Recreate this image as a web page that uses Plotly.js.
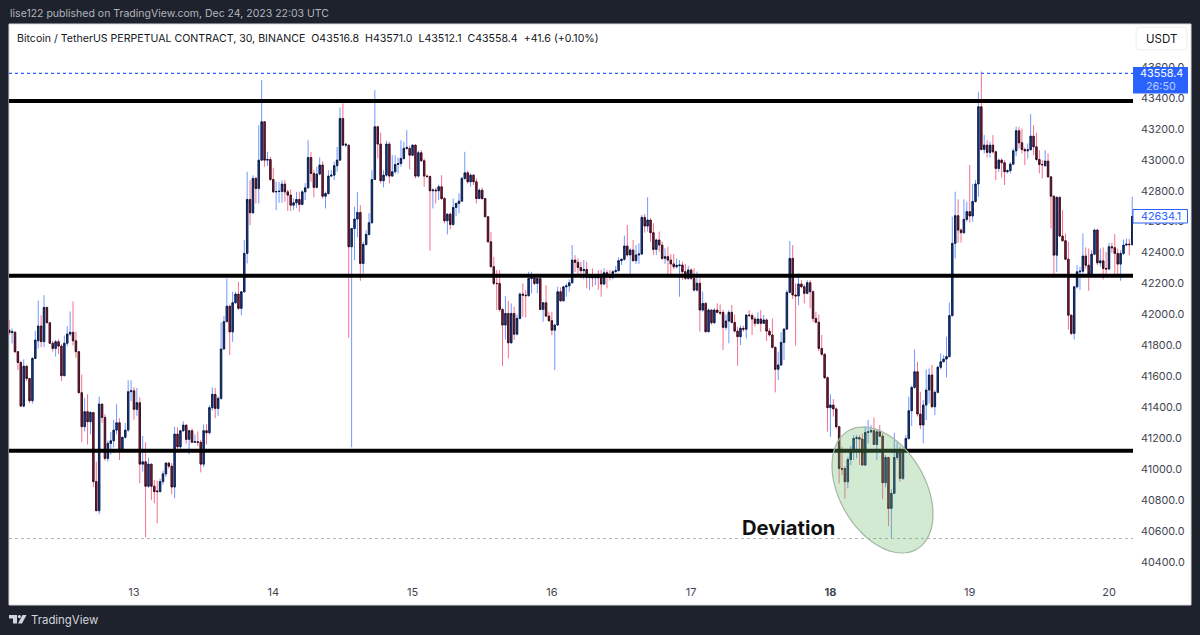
<!DOCTYPE html>
<html><head><meta charset="utf-8">
<script src="https://cdn.plot.ly/plotly-3.0.0.min.js"></script>
<style>html,body{margin:0;padding:0;background:#1e222d;overflow:hidden}#c{width:1200px;height:635px}</style>
</head><body><div id="c"></div>
<script>
const opens = [
41900,41883,41885,41760,41690,41408,41666,41587,41443,41716,
41830,41926,41825,42046,41947,41814,41781,41824,41796,41605,
41814,41874,41885,41830,41760,41495,41275,41372,41307,41367,
40920,40732,41421,41335,41070,41167,41184,41253,41300,41125,
41206,41253,41501,41507,41387,41430,41033,41048,40890,41033,
40890,40860,40855,40920,40970,41040,41020,40885,41227,41145,
41249,41285,41193,41249,41174,41178,41174,41033,41249,41236,
41398,41484,41393,41458,41777,41954,42054,41888,42076,42132,
42040,42147,42395,42744,42658,42880,42815,42998,43246,42998,
43002,42873,42793,42795,42795,42843,42793,42772,42707,42722,
42744,42712,42793,42819,43015,42912,42822,42908,42966,42765,
42782,42895,42901,42962,42998,43267,43095,43095,42438,42556,
42617,42660,42330,42453,42518,42593,42873,43214,43102,42865,
42901,43102,42895,42923,42970,42976,43009,43074,43074,43030,
43095,42895,43046,42994,42895,42892,42800,42805,42800,42826,
42750,42606,42649,42582,42692,42718,42733,42880,42916,42858,
42901,42858,42750,42804,42750,42632,42470,42309,42201,42201,
42033,41932,42007,41817,42007,41873,41975,42132,42125,42122,
42233,42238,42201,42233,42033,42076,41990,41960,41899,41932,
42147,42089,42179,42185,42205,42352,42337,42304,42283,42291,
42240,42244,42238,42245,42240,42197,42270,42249,42240,42277,
42284,42348,42357,42443,42385,42417,42348,42385,42391,42628,
42572,42611,42529,42421,42482,42449,42363,42374,42352,42327,
42309,42316,42320,42277,42234,42288,42234,42158,42202,42029,
42072,41889,42029,41947,42029,42014,42014,41917,41958,42014,
41949,41893,41857,41911,41905,41997,41993,41971,41943,41971,
41943,41965,41893,41868,41788,41646,41674,41820,41906,42143,
42363,42126,42120,42197,42180,42137,42206,42148,41975,41950,
41781,41743,41592,41398,41415,41390,41275,41005,41005,40919,
41063,41113,41199,41204,41195,41027,41238,41242,41249,41160,
41242,41214,40913,41076,40747,40844,41076,41124,40941,41113,
41199,41378,41529,41630,41357,41286,41415,41512,41609,41404,
41497,41659,41695,41712,41728,41993,42460,42639,42546,42529,
42615,42665,42637,42730,42844,43343,43067,43095,43048,43095,
43052,42944,42998,42981,42923,42930,42972,43058,43188,43110,
43067,43058,43065,43153,43084,43002,42970,42962,42992,42890,
42765,42384,42757,42507,42477,42358,41996,41878,42179,42276,
42280,42378,42319,42261,42390,42546,42334,42347,42298,42294,
42438,42432,42395,42326,42395,42449,42455,42452];
const highs = [
41964,41910,41895,41760,41700,41710,41670,41590,41725,41895,
42090,41995,42125,42050,41950,41830,41835,41840,41810,41865,
41925,42020,42085,41890,41760,41612,41460,41485,41375,41370,
41050,41470,41425,41355,41185,41240,41320,41420,41330,41210,
41300,41575,41575,41530,41525,41465,41215,41175,41075,41035,
40930,40925,40940,40990,41045,41045,41040,41275,41270,41255,
41310,41290,41255,41265,41225,41245,41190,41290,41290,41415,
41530,41525,41470,41950,41990,42233,42060,42147,42147,42212,
42150,42481,42923,42869,42900,42890,43224,43515,43250,43052,
43020,42949,42858,42858,42869,42869,42808,42808,42750,42793,
42793,42804,42850,43127,43050,42933,42955,43015,42990,42795,
42933,42933,42987,43084,43339,43365,43110,43095,42560,42696,
42791,42707,42470,42545,42655,42933,43451,43220,43175,42933,
43123,43117,43030,43030,43015,43127,43117,43192,43090,43100,
43100,43060,43063,43009,42905,42900,42815,42820,42840,42901,
42760,42655,42660,42750,42725,42783,42890,43052,42930,42912,
42908,42880,42815,42820,42750,42635,42535,42373,42287,42287,
42040,42119,42089,42072,42050,42000,42145,42201,42158,42276,
42276,42255,42255,42255,42080,42190,42018,42018,41940,42179,
42175,42185,42201,42227,42449,42384,42363,42341,42352,42341,
42260,42298,42255,42287,42288,42299,42288,42288,42288,42314,
42370,42363,42510,42579,42428,42482,42449,42460,42643,42650,
42758,42622,42590,42490,42536,42471,42428,42438,42391,42391,
42363,42352,42342,42327,42314,42299,42299,42277,42235,42148,
42080,42040,42035,42040,42072,42066,42030,42000,42029,42061,
42000,41920,41928,41928,42001,42029,42008,41986,42014,42029,
41997,41975,41911,41975,41792,41760,41885,41911,42158,42475,
42449,42202,42266,42223,42195,42223,42223,42155,42018,42000,
41868,41750,41600,41484,41454,41400,41280,41145,41020,41080,
41150,41221,41221,41221,41232,41279,41318,41285,41335,41253,
41285,41232,41092,41080,40870,41236,41178,41145,41120,41221,
41469,41540,41775,41695,41501,41447,41646,41652,41674,41510,
41670,41749,41738,41857,42077,42633,42794,42745,42557,42745,
42730,42967,42844,42870,43440,43571,43160,43127,43117,43160,
43060,43009,43009,42998,42938,42987,43074,43214,43214,43203,
43080,43106,43295,43224,43175,43063,42998,43063,43041,42895,
42770,42765,42765,42675,42524,42470,42000,42185,42319,42309,
42524,42434,42427,42416,42554,42554,42427,42434,42405,42464,
42464,42520,42427,42416,42485,42490,42490,42761];
const lows = [
41867,41813,41750,41640,41403,41400,41570,41428,41425,41715,
41780,41790,41790,41945,41810,41760,41728,41745,41570,41600,
41795,41860,41800,41720,41490,41175,41245,41160,41225,40885,
40732,40710,41300,41055,41050,41095,41140,41225,41060,41120,
41200,41240,41440,41320,41345,40910,40985,40560,40880,40800,
40780,40650,40850,40900,40950,41005,40838,40812,41130,41120,
41240,41165,41095,41170,41170,41150,40980,41015,41160,41225,
41380,41330,41345,41450,41775,41950,41738,41824,42070,42030,
41996,42140,42330,42578,42650,42718,42718,42994,42955,42960,
42865,42785,42675,42722,42722,42729,42670,42670,42675,42690,
42664,42705,42740,42815,42858,42757,42815,42900,42750,42686,
42775,42890,42869,42923,42994,43090,43080,41850,41142,42352,
42500,42218,42265,42445,42510,42590,42868,43009,42847,42822,
42890,42847,42890,42912,42912,42955,43000,43063,42938,43024,
42880,42886,42985,42826,42885,42412,42686,42718,42740,42740,
42589,42518,42550,42572,42636,42654,42729,42870,42847,42826,
42837,42718,42745,42740,42630,42465,42305,42190,42028,42018,
41666,41839,41716,41813,41835,41865,41968,41985,41981,42115,
42136,42190,42136,42028,41953,41985,41953,41867,41641,41927,
42082,42082,42115,42147,42200,42276,42261,42233,42227,42169,
42158,42179,42190,42160,42115,42190,42169,42220,42227,42270,
42277,42320,42348,42374,42255,42342,42327,42327,42385,42529,
42536,42471,42385,42385,42406,42352,42327,42255,42255,42292,
42298,42115,42223,42223,42223,42223,42148,42148,41889,42018,
41883,41885,41935,41940,42007,41997,41771,41900,41814,41943,
41885,41669,41803,41889,41846,41986,41868,41921,41936,41889,
41940,41829,41857,41781,41497,41577,41669,41706,41900,42137,
42100,41799,42061,42169,42072,42130,42040,41950,41943,41764,
41734,41583,41243,41210,41340,41264,40908,40962,40811,40876,
41027,41059,41070,41027,41022,41020,41167,41232,41156,41059,
41210,40805,40882,40632,40553,40840,41059,40919,40930,41110,
41190,41279,41520,41340,41258,41167,41318,41426,41394,41350,
41490,41646,41690,41594,41723,41987,42363,42465,42465,42520,
42600,42594,42600,42725,42761,43060,43041,43015,43015,43041,
42869,42923,42886,42837,42912,42912,42966,43024,43074,43041,
42966,43009,43063,43030,42994,42912,42880,42955,42886,42556,
42255,42276,42502,42470,42352,41903,41867,41839,42168,42158,
42266,42298,42153,42255,42384,42319,42309,42227,42261,42287,
42399,42261,42261,42218,42384,42442,42384,42445];
const closes = [
41883,41890,41760,41690,41408,41666,41587,41443,41716,41835,
41926,41825,42046,41947,41814,41781,41824,41796,41605,41814,
41874,41885,41830,41760,41495,41275,41372,41307,41367,40920,
40732,41421,41335,41070,41167,41184,41253,41300,41125,41206,
41253,41501,41507,41387,41430,41033,41048,40890,41033,40890,
40855,40855,40920,40970,41040,41020,40885,41227,41145,41249,
41285,41193,41249,41174,41178,41174,41033,41249,41236,41398,
41484,41393,41458,41777,41954,42054,41888,42076,42132,42040,
42147,42395,42744,42658,42880,42815,42998,43246,42998,43002,
42873,42793,42795,42797,42843,42793,42772,42707,42722,42744,
42712,42793,42819,43015,42912,42822,42908,42966,42765,42782,
42895,42901,42962,42998,43267,43095,43100,42438,42556,42617,
42660,42330,42453,42518,42593,42873,43214,43102,42865,42901,
43102,42895,42923,42970,42976,43009,43074,43080,43030,43095,
42895,43046,42994,42895,42892,42800,42805,42800,42826,42750,
42606,42649,42582,42692,42718,42733,42880,42916,42858,42901,
42858,42750,42804,42750,42632,42470,42309,42201,42200,42033,
41932,42007,41817,42007,41873,41975,42132,42125,42122,42233,
42238,42201,42233,42033,42076,41990,41960,41899,41932,42147,
42089,42179,42185,42205,42352,42337,42304,42283,42291,42240,
42244,42238,42245,42238,42197,42270,42249,42240,42277,42284,
42348,42357,42443,42385,42417,42348,42385,42391,42628,42572,
42611,42529,42421,42482,42449,42363,42374,42352,42327,42309,
42318,42320,42277,42234,42288,42234,42158,42202,42029,42072,
41889,42029,41947,42029,42014,42010,41917,41958,42014,41949,
41893,41857,41911,41905,41997,41993,41971,41943,41971,41943,
41965,41893,41868,41788,41646,41674,41820,41906,42143,42363,
42126,42120,42197,42180,42137,42206,42148,41975,41950,41781,
41743,41592,41398,41415,41390,41275,41005,41000,40919,41063,
41113,41199,41204,41195,41027,41238,41242,41249,41160,41242,
41214,40913,41076,40747,40844,41076,41124,40941,41113,41199,
41378,41529,41630,41357,41286,41415,41512,41609,41404,41497,
41659,41695,41712,41728,41993,42460,42639,42546,42529,42615,
42665,42637,42730,42844,43343,43067,43095,43048,43095,43052,
42944,42998,42981,42923,42930,42972,43058,43188,43110,43067,
43058,43065,43153,43084,43002,42970,42968,42992,42890,42765,
42384,42757,42507,42477,42358,41996,41878,42179,42276,42280,
42378,42319,42261,42390,42546,42334,42347,42298,42294,42438,
42432,42395,42326,42395,42449,42455,42452,42634];
const dayLabels = ['13','14','15','16','17','<b>18</b>','19','20'];
const dayBars = [43,91,139,187,235,283,331,379];
const priceTicks = [40400,40600,40800,41000,41200,41400,41600,41800,42000,42200,42400,42600,42800,43000,43200,43400,43600];
const levels = [43380,42250,41120];
const lastPrice = 43558.4, periodLow = 40552;

const bars = closes.map((_,i)=>i);
const bodyTop = closes.map((c,i)=>Math.max(c,opens[i]));
const bodyBot = closes.map((c,i)=>Math.min(c,opens[i]));

const L=9,R=1133,T=24,B=578;
const X=p=>(p-L)/(R-L), Y=p=>(B-p)/(B-T);
const P=(x,y)=>X(x).toFixed(5)+','+Y(y).toFixed(5);
const paper=o=>Object.assign({xref:'paper',yref:'paper'},o);
const FONT='Inter, "Liberation Sans", sans-serif';

function ellipsePath(cx,cy,a,b,deg){
  const t=deg*Math.PI/180; let s='';
  for(let k=0;k<=72;k++){
    const u=k/72*2*Math.PI;
    const dx=b*Math.cos(u), dy=a*Math.sin(u);
    const x=cx+dx*Math.cos(t)-dy*Math.sin(t);
    const y=cy+dx*Math.sin(t)+dy*Math.cos(t);
    s+=(k?'L':'M')+P(x,y);
  }
  return s+'Z';
}
function roundRect(x0,y0,x1,y1,r){
  return 'M'+P(x0+r,y0)+'L'+P(x1-r,y0)+'Q'+P(x1,y0)+' '+P(x1,y0+r)+'L'+P(x1,y1-r)+'Q'+P(x1,y1)+' '+P(x1-r,y1)+
    'L'+P(x0+r,y1)+'Q'+P(x0,y1)+' '+P(x0,y1-r)+'L'+P(x0,y0+r)+'Q'+P(x0,y0)+' '+P(x0+r,y0)+'Z';
}

const wicks={type:'candlestick',x:bars,open:opens,high:highs,low:lows,close:closes,width:0.4,whiskerwidth:0,
  increasing:{line:{color:'#6f97ff',width:1},fillcolor:'#6f97ff'},
  decreasing:{line:{color:'#f6708a',width:1},fillcolor:'#f6708a'},hoverinfo:'skip',showlegend:false};
const bodies={type:'candlestick',x:bars,open:opens,high:bodyTop,low:bodyBot,close:closes,width:0.8,whiskerwidth:0,
  increasing:{line:{color:'#0b0f1a',width:0.8},fillcolor:'#1a46b4'},
  decreasing:{line:{color:'#0b0f1a',width:0.8},fillcolor:'#a81a3a'},hoverinfo:'skip',showlegend:false};

const shapes=[
  paper({type:'rect',layer:'below',x0:X(9),x1:X(1191),y0:Y(24),y1:Y(605),fillcolor:'#ffffff',line:{color:'#d8dade',width:1}}),
  {type:'line',xref:'paper',yref:'y',x0:0,x1:1,y0:lastPrice,y1:lastPrice,line:{color:'#2962ff',width:1.2,dash:'dot'}},
  {type:'line',xref:'paper',yref:'y',x0:0,x1:1,y0:periodLow,y1:periodLow,line:{color:'#b0b3ba',width:1,dash:'dot'}},
  ...levels.map(v=>({type:'line',xref:'paper',yref:'y',x0:0,x1:1,y0:v,y1:v,line:{color:'#000000',width:4}})),
  paper({type:'path',path:ellipsePath(882.5,490,68.4,42.9,-30),fillcolor:'rgba(105,185,105,0.3)',line:{color:'#a3b6a3',width:1.2}}),
  paper({type:'path',path:roundRect(1136,27,1187,50,4),fillcolor:'#ffffff',line:{color:'#eceef1',width:1}}),
  paper({type:'rect',x0:X(1133),x1:X(1188),y0:Y(67),y1:Y(93.5),fillcolor:'#2962ff',line:{width:0}}),
  paper({type:'rect',x0:X(1133),x1:X(1187.5),y0:Y(209.5),y1:Y(223),fillcolor:'#ffffff',line:{color:'#2962ff',width:1}}),
  paper({type:'path',path:'M'+P(9,615)+'L'+P(17,615)+'L'+P(17,623.5)+'L'+P(13,623.5)+'L'+P(13,618.5)+'L'+P(9,618.5)+'Z',fillcolor:'#d1d4dc',line:{width:0}}),
  paper({type:'path',path:'M'+P(22.5,615)+'L'+P(26.5,615)+'L'+P(22,623.5)+'L'+P(18,623.5)+'Z',fillcolor:'#d1d4dc',line:{width:0}}),
  paper({type:'circle',x0:X(17.8),x1:X(21),y0:Y(615),y1:Y(618.2),fillcolor:'#d1d4dc',line:{width:0}})
];
const note=(x,y,text,size,color,anchor,extra)=>paper(Object.assign({x:X(x),y:Y(y),text,showarrow:false,xanchor:anchor||'left',yanchor:'middle',
  font:{family:FONT,size,color},borderpad:0},extra||{}));
const annotations=[
  note(9,14,'lise122 published on TradingView.com, Dec 24, 2023 22:03 UTC',10.5,'#b2b5be'),
  note(16,38,'Bitcoin / TetherUS PERPETUAL CONTRACT, 30, BINANCE&nbsp;&nbsp;O43516.8&nbsp;&nbsp;H43571.0&nbsp;&nbsp;L43512.1&nbsp;&nbsp;C43558.4&nbsp;&nbsp;+41.6 (+0.10%)',10.6,'#131722'),
  note(1161.5,39,'USDT',11.5,'#131722','center'),
  note(1161,74,'43558.4',10.8,'#ffffff','center'),
  note(1161,86,'26:50',10.8,'#b9ccff','center'),
  note(1161,216.5,'42634.1',10.8,'#2962ff','center'),
  note(741,527,'<b>Deviation</b>',20.2,'#111111'),
  note(30,620,'TradingView',11.4,'#d1d4dc')
];
const layout={width:1200,height:635,margin:{l:L,r:1200-R,t:T,b:635-B,pad:0},paper_bgcolor:'#1e222d',plot_bgcolor:'#ffffff',
  showlegend:false,hovermode:false,boxmode:'overlay',shapes,annotations,
  xaxis:{type:'linear',range:[-0.07,387.27],rangeslider:{visible:false},showgrid:false,zeroline:false,showline:false,
    tickmode:'array',tickvals:dayBars,ticktext:dayLabels,ticks:'',ticklabelstandoff:6,tickfont:{family:FONT,size:11,color:'#434651'}},
  yaxis:{side:'right',range:[40297,43878],showgrid:false,zeroline:false,showline:false,tickmode:'array',tickvals:priceTicks,
    ticktext:priceTicks.map(v=>v.toFixed(1)),ticks:'',ticklabelstandoff:7,tickfont:{family:FONT,size:10.8,color:'#434651'}}
};
Plotly.newPlot('c',[wicks,bodies],layout,{displayModeBar:false,staticPlot:true});
</script></body></html>
